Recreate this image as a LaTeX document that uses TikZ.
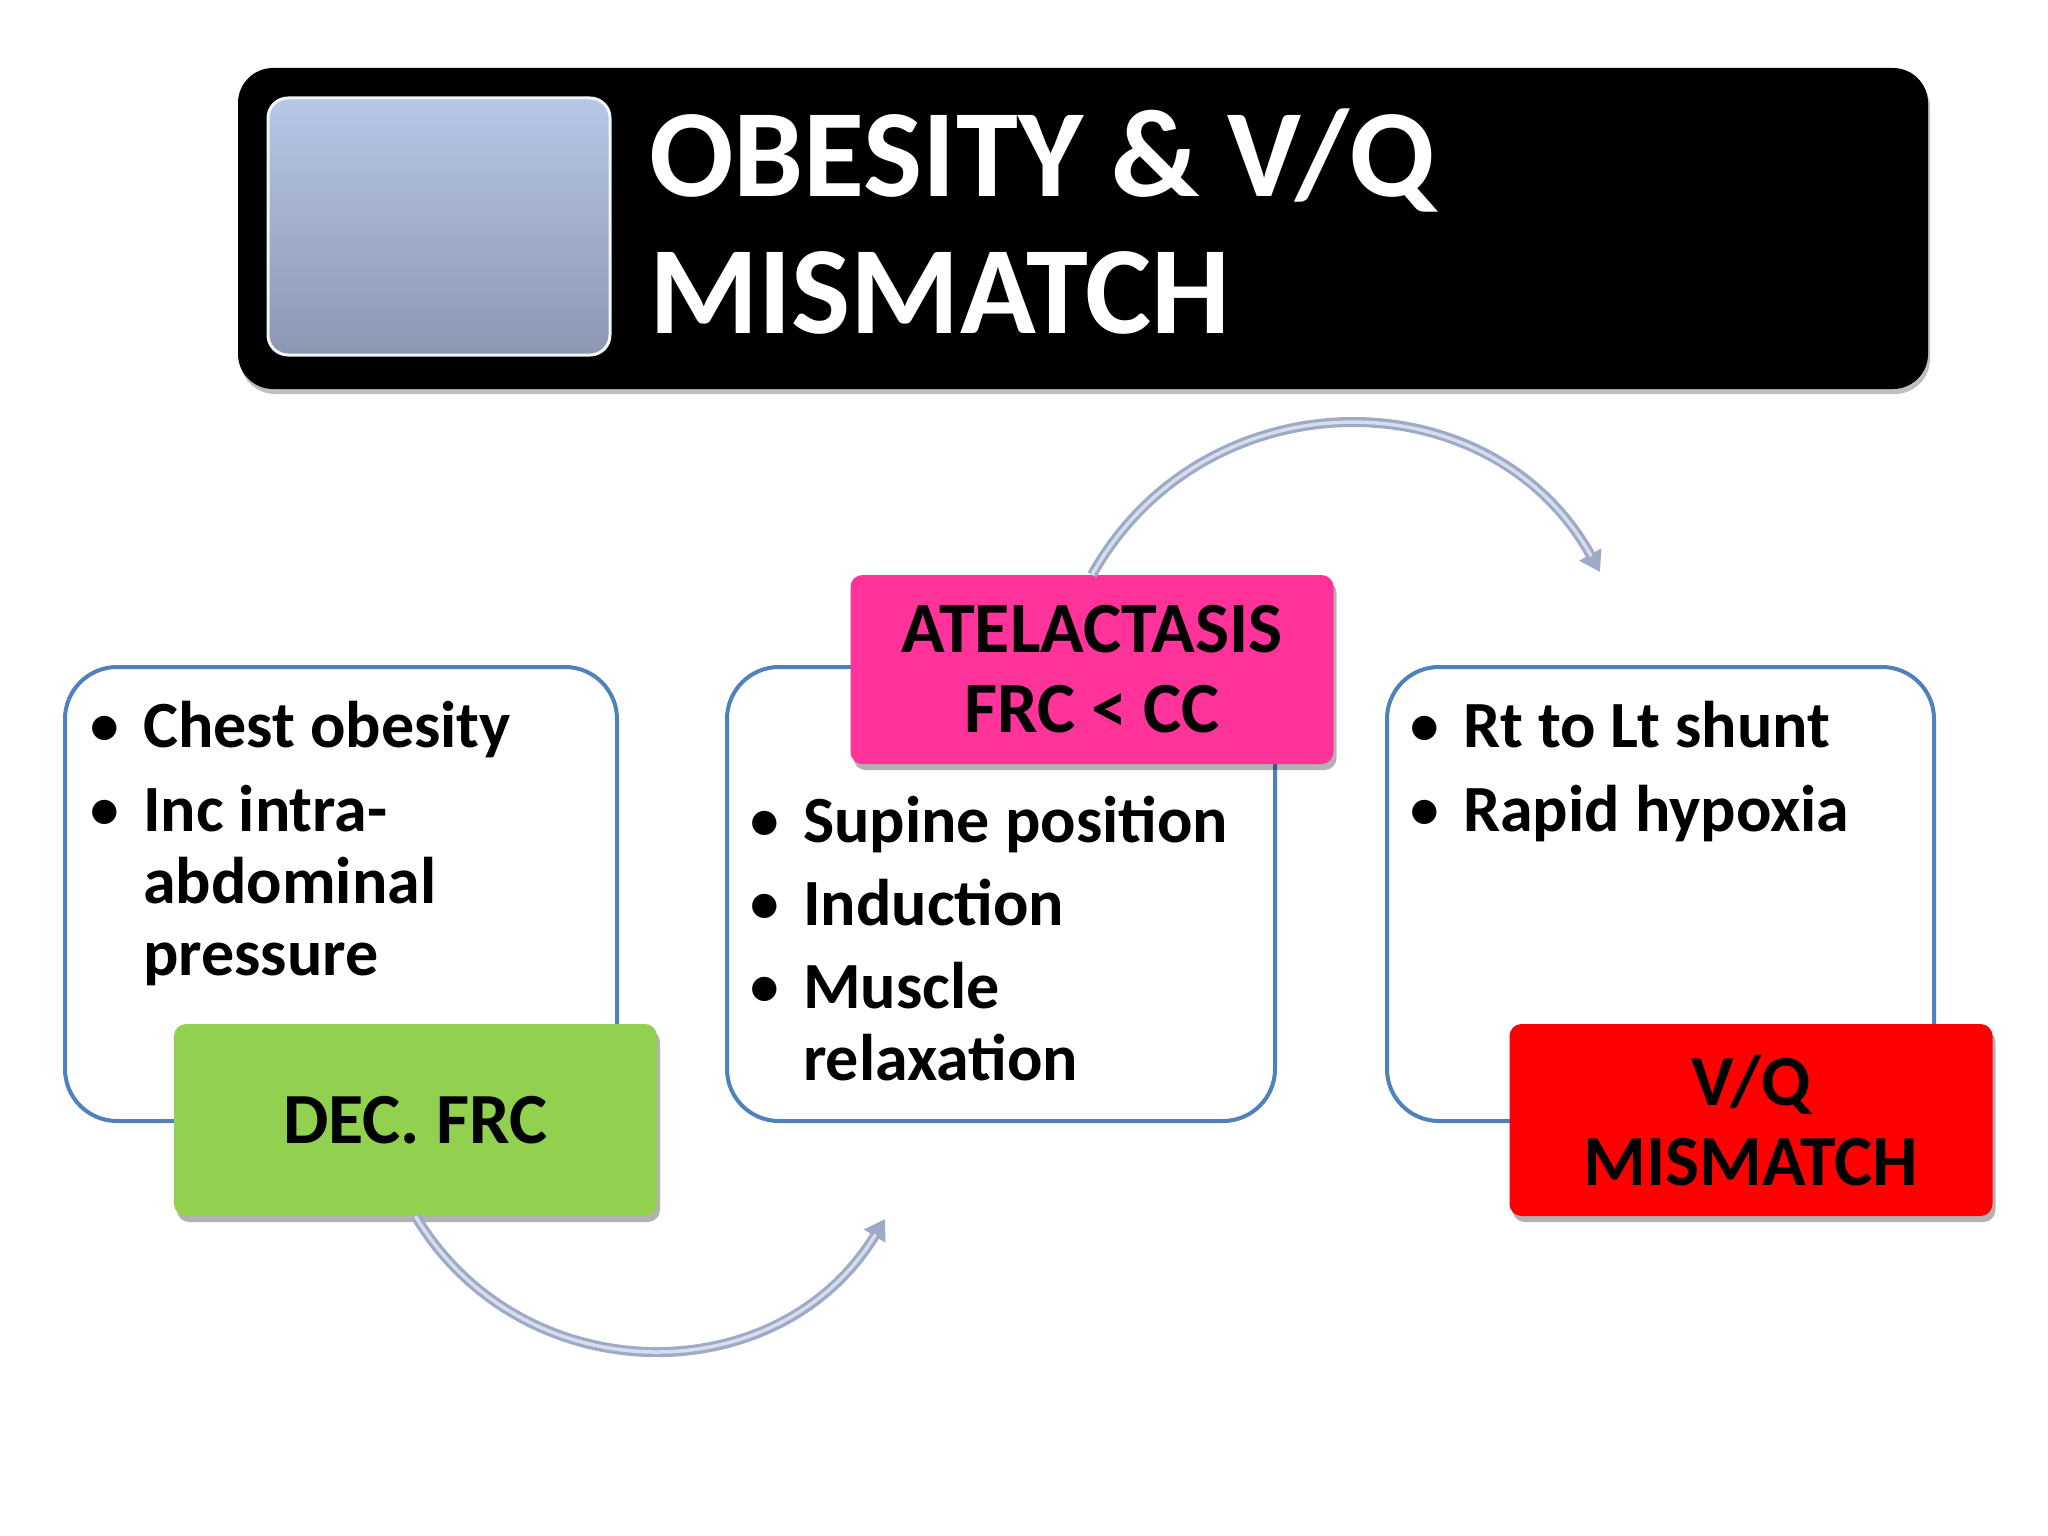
\documentclass[tikz,border=0pt]{standalone}
\usepackage{fontspec}
\setmainfont{Carlito}
\usetikzlibrary{arrows.meta,shadows}
\definecolor{bodyblue}{RGB}{79,129,189}
\definecolor{lblgreen}{RGB}{146,208,80}
\definecolor{lblpink}{RGB}{255,51,153}
\definecolor{lblred}{RGB}{255,0,0}
\definecolor{arcdark}{RGB}{158,170,198}
\definecolor{arclight}{RGB}{214,221,236}
\definecolor{tiltop}{RGB}{183,199,231}
\definecolor{tilbot}{RGB}{140,151,178}
\newcommand{\bodyfont}{\fontsize{66}{72}\selectfont\bfseries}
\newcommand{\lblfont}{\fontsize{72}{80}\selectfont\bfseries}
\newcommand{\titlefont}{\fontsize{125}{138}\selectfont\bfseries}
\newcommand{\bul}{\makebox[53pt][l]{\raisebox{3pt}{\scalebox{0.87}{\textbullet}}}}
\begin{document}
\begin{tikzpicture}[x=1pt,y=-1pt,
  bodybox/.style={draw=bodyblue, line width=4pt, fill=white, rounded corners=52pt,
    minimum height=454pt, inner sep=0pt},
  lblbox/.style={rounded corners=12pt, minimum width=483pt, minimum height=192pt,
    inner sep=0pt, align=center, font=\lblfont,
    drop shadow={shadow xshift=3pt, shadow yshift=-6pt, opacity=0.3, fill=black}},
  bodytext/.style={anchor=base west, inner sep=0pt, font=\bodyfont},
  arcout/.style={draw=arcdark, line width=10pt, -{Triangle[length=20pt,width=24pt]}},
  arcin/.style={draw=arclight, line width=3.5pt, shorten >=18pt}]
\useasboundingbox (0,0) rectangle (2048,1536);
\fill[white] (0,0) rectangle (2048,1536);
% title bar
\node[fill=black, rounded corners=35pt, minimum width=1690pt, minimum height=321pt,
  inner sep=0pt, drop shadow={shadow xshift=2pt, shadow yshift=-5pt, opacity=0.25, fill=black}]
  (titlebar) at (1083,228.5) {};
\node[top color=tiltop, bottom color=tilbot, draw=white!80!tiltop, line width=3pt,
  rounded corners=20pt, minimum width=342pt, minimum height=257pt, inner sep=0pt]
  (tile) at (439,226.5) {};
\node[anchor=base west, inner sep=0pt, text=white, font=\titlefont] (title) at (649,196)
  {\begin{tabular}[t]{@{}l@{}}OBESITY \& V/Q\\ MISMATCH\end{tabular}};
% body boxes
\node[bodybox, minimum width=552pt] (b1) at (341,894) {};
\node[bodybox, minimum width=548pt] (b2) at (1001,894) {};
\node[bodybox, minimum width=547pt] (b3) at (1660.5,894) {};
% body texts
\node[bodytext] (t1) at (90,747)
  {\begin{tabular}[t]{@{}l@{}l@{}}\bul & Chest obesity\\[12pt] \bul & Inc intra-\\ & abdominal\\ & pressure\end{tabular}};
\node[bodytext] (t2) at (750,842)
  {\begin{tabular}[t]{@{}l@{}l@{}}\bul & Supine position\\[11pt] \bul & Induction\\[11pt] \bul & Muscle\\ & relaxation\end{tabular}};
\node[bodytext] (t3) at (1410,747)
  {\begin{tabular}[t]{@{}l@{}l@{}}\bul & Rt to Lt shunt\\[12pt] \bul & Rapid hypoxia\end{tabular}};
% label boxes
\node[lblbox, fill=lblgreen] (green) at (415.5,1120) {DEC. FRC};
\node[lblbox, fill=lblpink, minimum height=189pt] (pink) at (1092,669.5) {ATELACTASIS\\FRC < CC};
\node[lblbox, fill=lblred] (red) at (1751,1120) {V/Q\\MISMATCH};
% curved arrows
\coordinate (e1) at (1600,572);
\coordinate (e2) at (885,1219);
\draw[arcout] (pink.north) .. controls +(112,-200) and +(-110,-198) .. (e1);
\draw[arcin] (pink.north) .. controls +(112,-200) and +(-110,-198) .. (e1);
\draw[arcout] (green.south) .. controls +(106,177) and +(-107,176) .. (e2);
\draw[arcin] (green.south) .. controls +(106,177) and +(-107,176) .. (e2);
\end{tikzpicture}
\end{document}
